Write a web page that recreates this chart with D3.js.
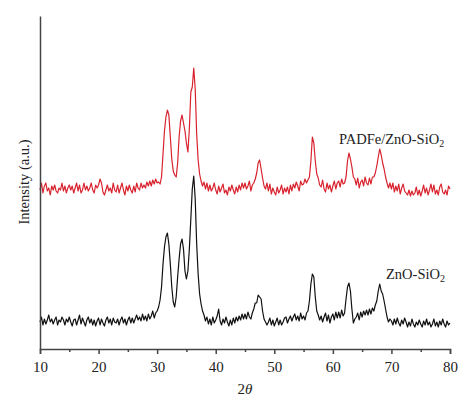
<!DOCTYPE html>
<html>
<head>
<meta charset="utf-8">
<script src="https://cdn.jsdelivr.net/npm/d3@7"></script>
<style>
  html, body { margin: 0; padding: 0; background: #fff; }
  svg { display: block; }
  text { font-family: "Liberation Serif", "Times New Roman", serif; fill: #222; }
</style>
</head>
<body>
<svg id="chart" width="474" height="415"></svg>
<script>
// 2θ sampling grid (degrees)
const twoTheta = [
10,10.25,10.5,10.75,11,11.25,11.5,11.75,12,12.25,12.5,12.75,13,13.25,13.5,13.75,14,14.25,14.5,14.75,
15,15.25,15.5,15.75,16,16.25,16.5,16.75,17,17.25,17.5,17.75,18,18.25,18.5,18.75,19,19.25,19.5,19.75,
20,20.25,20.5,20.75,21,21.25,21.5,21.75,22,22.25,22.5,22.75,23,23.25,23.5,23.75,24,24.25,24.5,24.75,
25,25.25,25.5,25.75,26,26.25,26.5,26.75,27,27.25,27.5,27.75,28,28.25,28.5,28.75,29,29.25,29.5,29.75,
30,30.25,30.5,30.75,31,31.25,31.5,31.75,32,32.25,32.5,32.75,33,33.25,33.5,33.75,34,34.25,34.5,34.75,
35,35.25,35.5,35.75,36,36.25,36.5,36.75,37,37.25,37.5,37.75,38,38.25,38.5,38.75,39,39.25,39.5,39.75,
40,40.25,40.5,40.75,41,41.25,41.5,41.75,42,42.25,42.5,42.75,43,43.25,43.5,43.75,44,44.25,44.5,44.75,
45,45.25,45.5,45.75,46,46.25,46.5,46.75,47,47.25,47.5,47.75,48,48.25,48.5,48.75,49,49.25,49.5,49.75,
50,50.25,50.5,50.75,51,51.25,51.5,51.75,52,52.25,52.5,52.75,53,53.25,53.5,53.75,54,54.25,54.5,54.75,
55,55.25,55.5,55.75,56,56.25,56.5,56.75,57,57.25,57.5,57.75,58,58.25,58.5,58.75,59,59.25,59.5,59.75,
60,60.25,60.5,60.75,61,61.25,61.5,61.75,62,62.25,62.5,62.75,63,63.25,63.5,63.75,64,64.25,64.5,64.75,
65,65.25,65.5,65.75,66,66.25,66.5,66.75,67,67.25,67.5,67.75,68,68.25,68.5,68.75,69,69.25,69.5,69.75,
70,70.25,70.5,70.75,71,71.25,71.5,71.75,72,72.25,72.5,72.75,73,73.25,73.5,73.75,74,74.25,74.5,74.75,
75,75.25,75.5,75.75,76,76.25,76.5,76.75,77,77.25,77.5,77.75,78,78.25,78.5,78.75,79,79.25,79.5,79.75,
80];

// PADFe/ZnO-SiO2 intensity (a.u., includes vertical offset)
const padfeValues = [
159,166,156,163, 166,158,161,154, 163,159,164,158, 156,161,159,166, 158,163,156,161,
164,159,163,156, 161,166,158,164, 156,159,166,159, 163,158,161,166, 159,156,164,161,
164,170,166,157, 154,159,164,158, 161,156,166,159, 157,164,156,161, 166,159,154,163,
158,164,159,156, 163,157,166,161, 159,166,161,164, 161,167,163,168, 163,169,165,170,
166,167,165,172, 195,218,232,239, 234,212,190,178, 174,172,186,212, 228,234,226,218,
206,197,220,257, 262,281,260,215, 189,175,168,163, 167,160,166,158, 164,158,161,166,
159,155,163,157, 161,165,156,159, 154,162,158,164, 159,155,162,157, 164,159,166,161,
166,160,163,168, 158,164,166,170, 176,186,189,180, 171,163,160,166, 158,165,155,161,
157,154,162,156, 159,164,155,161, 157,162,155,164, 158,165,161,167, 163,158,168,164,
165,170,166,169, 172,188,212,206, 188,175,171,164, 162,169,160,157, 166,160,164,157,
163,168,160,166, 168,162,170,165, 166,172,188,196, 190,182,172,170, 164,171,161,167,
169,163,172,166, 164,171,165,172, 172,176,183,192, 200,194,186,180, 172,166,161,166,
160,166,157,163, 158,165,155,161, 165,158,156,154, 159,153,158,154, 156,162,154,159,
153,158,164,156, 161,154,159,165, 157,164,155,159, 154,162,165,157, 155,159,154,163,
160];

// ZnO-SiO2 intensity (a.u.)
const znoValues = [
27,32,24,30, 25,29,34,27, 30,25,29,32, 24,29,27,32, 29,24,30,27,
32,27,23,29, 30,24,29,34, 25,31,27,23, 29,32,26,30, 24,29,23,28,
31,24,30,26, 23,29,32,26, 30,24,31,27, 26,30,24,29, 32,26,30,24,
29,32,26,31, 26,30,34,29, 32,28,35,29, 33,28,35,30, 33,38,31,36,
38,42,49,62, 85,102,112,116, 105,85,62,47, 42,52,72,90, 105,110,100,78,
70,78,100,130, 160,173,150,105, 75,55,45,38, 34,28,32,25, 30,24,32,26,
29,33,40,28, 24,30,26,32, 27,23,29,24, 31,26,32,28, 33,29,35,30,
35,30,37,32, 30,36,40,46, 46,54,52,50, 38,30,27,24, 27,31,24,29,
23,27,31,24, 29,24,27,31, 32,26,30,33, 28,32,35,29, 33,28,36,30,
33,29,36,38, 48,65,75,72, 52,38,34,29, 33,27,32,36, 28,34,26,32,
35,29,37,31, 37,31,39,33, 36,50,62,66, 58,40,26,30, 32,36,29,37,
32,38,34,39, 34,40,35,41, 38,44,48,58, 65,58,55,48, 40,32,27,30,
28,24,30,25, 31,26,23,29, 25,31,27,22, 27,23,30,25, 22,27,24,29,
25,22,28,24, 30,24,27,22, 25,30,23,27, 22,28,24,30, 25,22,28,24,
26];

const majorTicks = [10, 20, 30, 40, 50, 60, 70, 80];
const minorTicks = [15, 25, 35, 45, 55, 65, 75];
const seriesNames = ["PADFe/ZnO-SiO", "ZnO-SiO"];
const seriesColors = ["#d8232f", "#111111"];

const svg = d3.select("#chart");
const x = d3.scaleLinear().domain([10, 80]).range([40, 450]);
const y = d3.scaleLinear().domain([0, 333]).range([349, 16]);

const line = d3.line()
  .x((d, i) => x(twoTheta[i]))
  .y(d => y(d));

[padfeValues, znoValues].forEach((vals, k) => {
  svg.append("path")
    .datum(vals)
    .attr("d", line)
    .attr("fill", "none")
    .attr("stroke", seriesColors[k])
    .attr("stroke-width", 1.2)
    .attr("stroke-linejoin", "round");
});

// axes
const xAxis = svg.append("g")
  .attr("transform", `translate(0,${y(0)})`)
  .call(d3.axisBottom(x).tickValues(majorTicks).tickSize(5).tickPadding(7).tickFormat(d3.format("d")));
xAxis.select(".domain").attr("stroke", "#444").attr("stroke-width", 1.5);
xAxis.selectAll(".tick line").attr("stroke", "#444").attr("stroke-width", 1.5);
xAxis.selectAll(".tick text")
  .style("font-family", "'Liberation Serif', serif")
  .style("font-size", "15px")
  .attr("fill", "#222");

const xMinor = svg.append("g")
  .attr("transform", `translate(0,${y(0)})`)
  .call(d3.axisBottom(x).tickValues(minorTicks).tickSize(3).tickFormat(""));
xMinor.select(".domain").remove();
xMinor.selectAll(".tick line").attr("stroke", "#444").attr("stroke-width", 1.5);

const yAxis = svg.append("g")
  .attr("transform", `translate(${x(10)},0)`)
  .call(d3.axisLeft(y).tickValues([]).tickSize(0));
yAxis.select(".domain").attr("stroke", "#444").attr("stroke-width", 1.5);

// axis titles
const xt = svg.append("text")
  .attr("x", 245).attr("y", 394)
  .attr("text-anchor", "middle")
  .style("font-size", "15px");
xt.append("tspan").text("2");
xt.append("tspan").attr("font-style", "italic").text("θ");

svg.append("text")
  .attr("transform", "translate(29,182) rotate(-90)")
  .attr("text-anchor", "middle")
  .style("font-size", "14.5px")
  .text("Intensity (a.u.)");

// series labels
const labelPos = [[339, 144], [386, 279]];
seriesNames.forEach((name, k) => {
  const t = svg.append("text")
    .attr("x", labelPos[k][0]).attr("y", labelPos[k][1])
    .style("font-size", "14.5px");
  t.append("tspan").text(name);
  t.append("tspan").attr("dy", 3).style("font-size", "10px").text("2");
});
</script>
</body>
</html>
